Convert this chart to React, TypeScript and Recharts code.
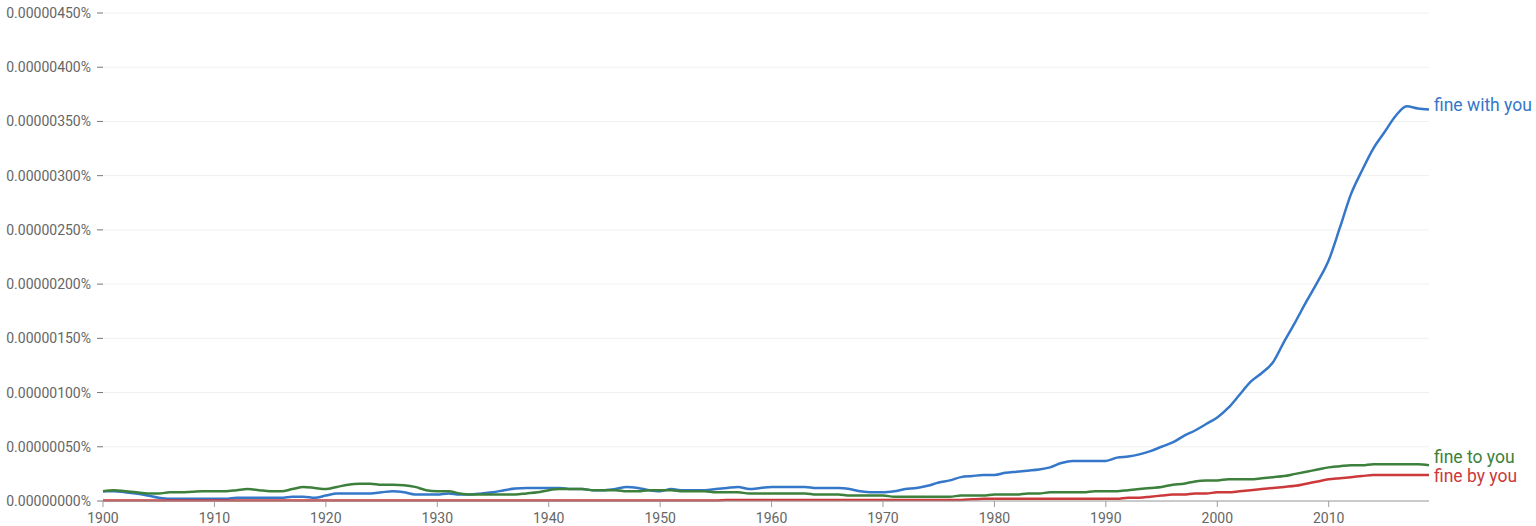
import { LineChart, Line, XAxis, YAxis, CartesianGrid } from 'recharts';

// values are in units of 0.00000001 %
const years = Array.from({ length: 120 }, (_, i) => 1900 + i);

const fineWithYou = [
  9, 9, 8, 7, 5, 3, 2, 2, 2, 2,
  2, 2, 3, 3, 3, 3, 3, 4, 4, 3,
  5, 7, 7, 7, 7, 8, 9, 8, 6, 6,
  6, 7, 6, 6, 7, 8, 10, 11.5, 12, 12,
  12, 12, 11, 11, 10, 10, 11, 13, 12, 10,
  9, 11, 10, 10, 10, 11, 12, 13, 11, 12,
  13, 13, 13, 13, 12, 12, 12, 11, 9, 8,
  8, 9, 11, 12, 14, 17, 19, 22, 23, 24,
  24, 26, 27, 28, 29, 31, 35, 37, 37, 37,
  37, 40, 41, 43, 46, 50, 54, 60, 65, 71,
  77, 86, 98, 110, 118, 128, 147, 165, 184, 202,
  222, 252, 283, 305, 325, 340, 355, 364, 362, 361,
];

const fineToYou = [
  9, 10, 9, 8, 7, 7, 8, 8, 8.5, 9,
  9, 9, 10, 11, 10, 9, 9, 11, 13, 12,
  11, 13, 15, 16, 16, 15, 15, 14.5, 13, 10,
  9, 9, 7, 6, 6, 6, 6, 6, 7, 8,
  10, 11, 11, 11, 10, 10, 10, 9, 9, 10,
  10, 10, 9, 9, 9, 8, 8, 8, 7, 7,
  7, 7, 7, 7, 6, 6, 6, 5, 5, 5,
  5, 4, 4, 4, 4, 4, 4, 5, 5, 5,
  6, 6, 6, 7, 7, 8, 8, 8, 8, 9,
  9, 9, 10, 11, 12, 13, 15, 16, 18, 19,
  19, 20, 20, 20, 21, 22, 23, 25, 27, 29,
  31, 32, 33, 33, 34, 34, 34, 34, 34, 33,
];

const fineByYou = [
  0.5, 0.5, 0.5, 0.5, 0.5, 0.5, 0.5, 0.5, 0.5, 0.5,
  0.5, 0.5, 0.5, 0.5, 0.5, 0.5, 0.5, 0.5, 0.5, 0.5,
  0.5, 0.5, 0.5, 0.5, 0.5, 0.5, 0.5, 0.5, 0.5, 0.5,
  0.5, 0.5, 0.5, 0.5, 0.5, 0.5, 0.5, 0.5, 0.5, 0.5,
  0.5, 0.5, 0.5, 0.5, 0.5, 0.5, 0.5, 0.5, 0.5, 0.5,
  0.5, 0.5, 0.5, 0.5, 0.5, 0.5, 1, 1, 1, 1,
  1, 1, 1, 1, 1, 1, 1, 1, 1, 1,
  1, 1, 1, 1, 1, 1, 1, 1, 1.5, 2,
  2, 2, 2, 2, 2, 2, 2, 2, 2, 2,
  2, 2, 3, 3, 4, 5, 6, 6, 7, 7,
  8, 8, 9, 10, 11, 12, 13, 14, 16, 18,
  20, 21, 22, 23, 24, 24, 24, 24, 24, 24,
];

const xTicks = [1900, 1910, 1920, 1930, 1940, 1950, 1960, 1970, 1980, 1990, 2000, 2010];
const yTicks = [0, 50, 100, 150, 200, 250, 300, 350, 400, 450];

const series = [
  { key: 'withYou', name: 'fine with you', color: '#3577c8', labelDy: -3 },
  { key: 'toYou', name: 'fine to you', color: '#3c803c', labelDy: -7 },
  { key: 'byYou', name: 'fine by you', color: '#cc393b', labelDy: 2 },
];

const data = years.map((year, i) => ({
  year,
  withYou: fineWithYou[i],
  toYou: fineToYou[i],
  byYou: fineByYou[i],
}));

const formatPct = (v: number) => `${(v * 1e-8).toFixed(8)}%`;

function endLabel(name: string, color: string, dy: number) {
  return (props: any) => {
    const { x, y, index } = props;
    if (index !== data.length - 1) return null;
    return (
      <text
        x={x + 5}
        y={y + dy}
        fill={color}
        fontSize={17.5}
        fontFamily="Roboto, sans-serif"
        dominantBaseline="middle"
        textAnchor="start"
      >
        {name}
      </text>
    );
  };
}

export default function App() {
  return (
    <div style={{ position: 'fixed', left: 0, top: 0, background: '#fff' }}>
      <LineChart
        width={1536}
        height={526}
        data={data}
        margin={{ top: 13, right: 107, left: 0, bottom: 0 }}
        style={{ fontFamily: 'Roboto, sans-serif' }}
      >
        <CartesianGrid vertical={false} stroke="#f0f0f0" />
        <XAxis
          dataKey="year"
          type="number"
          domain={[1900, 2019]}
          ticks={xTicks}
          height={25}
          tickSize={6}
          tickMargin={6}
          tick={{ fill: '#666', fontSize: 14 }}
          axisLine={{ stroke: '#9e9e9e' }}
          tickLine={{ stroke: '#9e9e9e' }}
        />
        <YAxis
          domain={[0, 450]}
          ticks={yTicks}
          width={103}
          tickSize={6}
          tickMargin={6}
          tickFormatter={formatPct}
          tick={{ fill: '#666', fontSize: 14 }}
          axisLine={false}
          tickLine={{ stroke: '#777' }}
        />
        {series.map((s) => (
          <Line
            key={s.key}
            dataKey={s.key}
            name={s.name}
            type="monotone"
            stroke={s.color}
            strokeWidth={2.5}
            dot={false}
            isAnimationActive={false}
            label={endLabel(s.name, s.color, s.labelDy)}
          />
        ))}
      </LineChart>
    </div>
  );
}
